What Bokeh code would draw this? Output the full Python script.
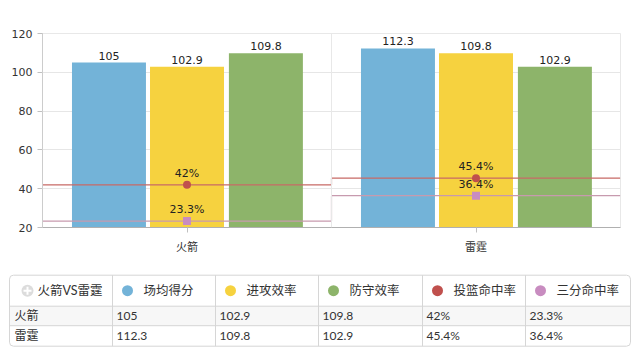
from bokeh.plotting import figure
from bokeh.models import Range1d, FactorRange, FixedTicker, ColumnDataSource, Span
from bokeh.transform import dodge
from bokeh.core.properties import value
from bokeh.embed import file_html
from bokeh.resources import INLINE

# ---- data ----
teams = ["火箭", "雷霆"]
series_names = ["场均得分", "进攻效率", "防守效率", "投篮命中率", "三分命中率"]
ppg = [105, 112.3]
off_eff = [102.9, 109.8]
def_eff = [109.8, 102.9]
fg_pct = [42, 45.4]
three_pct = [23.3, 36.4]
table_title = "火箭VS雷霆"
y_ticks = [20, 40, 60, 80, 100, 120]

colors = ["#73b3d8", "#f6d23f", "#8db46a", "#c0504d", "#c88cc0"]
line_colors = ["#c86a66", "#c79aae"]
FONT = "DejaVu Sans, 'Noto Sans CJK SC'"
TFONT = "Lato, 'Noto Sans CJK SC'"


def fmt(v):
    return f"{v:g}"


# ---- chart ----
p = figure(width=640, height=265, x_range=FactorRange(*teams, range_padding=0),
           y_range=Range1d(20, 120), output_backend="svg", toolbar_location=None,
           min_border_left=42, min_border_right=20, min_border_top=33, min_border_bottom=38)
p.outline_line_color = "#e8e8e8"
p.xgrid.visible = False
p.ygrid.grid_line_color = "#e6e6e6"
p.yaxis.ticker = FixedTicker(ticks=y_ticks)
for ax in (p.xaxis[0], p.yaxis[0]):
    ax.axis_line_color = "#b0b0b0"
    ax.major_tick_line_color = "#c0c0c0"
    ax.major_tick_in = 0
    ax.major_tick_out = 5
    ax.minor_tick_line_color = None
    ax.major_label_text_color = "#333333"
    ax.major_label_text_font = FONT
p.yaxis.major_label_text_font_size = "11px"
p.xaxis.major_label_text_font_size = "11px"
p.xaxis.major_label_standoff = 8

for loc in range(len(teams) + 1):
    p.add_layout(Span(location=loc, dimension="height", line_color="#e8e8e8", line_width=1))

src = ColumnDataSource(dict(team=teams, ppg=ppg, off=off_eff, de=def_eff,
                            fg=fg_pct, tp=three_pct,
                            ppg_l=[fmt(v) for v in ppg], off_l=[fmt(v) for v in off_eff],
                            de_l=[fmt(v) for v in def_eff],
                            fg_l=[fmt(v) + "%" for v in fg_pct], tp_l=[fmt(v) + "%" for v in three_pct]))

offsets = [-0.27, 0.0, 0.273]
bw = 0.256
for off, col, field in zip(offsets, colors[:3], ["ppg", "off", "de"]):
    xx = dodge("team", off, range=p.x_range)
    p.vbar(x=xx, top=field, bottom=20, width=bw, source=src, fill_color=col, line_color=None)
    p.text(x=xx, y=field, text=field + "_l", source=src, text_align="center",
           text_baseline="bottom", y_offset=-3, text_font_size="11px",
           text_color="#222222", text_font=value(FONT))

# step lines for percentages
for vals, lc in zip([fg_pct, three_pct], line_colors):
    xs, ys = [], []
    for i, v in enumerate(vals):
        xs += [i, i + 1]
        ys += [v, v]
    p.line(xs, ys, line_color=lc, line_width=1.2)

p.scatter(x="team", y="fg", source=src, marker="circle", size=8, fill_color=colors[3], line_color=None)
p.scatter(x="team", y="tp", source=src, marker="square", size=8, fill_color=colors[4], line_color=None)
for f in ["fg_l", "tp_l"]:
    p.text(x="team", y=f[:2], text=f, source=src, text_align="center", text_baseline="bottom",
           y_offset=-5, text_font_size="11px", text_color="#222222", text_font=value(FONT))

# ---- table ----
t = figure(width=640, height=91, x_range=Range1d(0, 640), y_range=Range1d(91, 0),
           output_backend="svg", toolbar_location=None, min_border=0)
t.axis.visible = False
t.grid.visible = False
t.outline_line_color = None

col_edges = [9, 112, 215, 318, 422, 525, 630]
row_edges = [9.7, 40.7, 60.2, 80.7]

t.quad(left=[col_edges[0]], right=[col_edges[-1]], top=[row_edges[1]], bottom=[row_edges[2]],
       fill_color="#f7f7f7", line_color=None)
t.quad(left=[col_edges[0]], right=[col_edges[-1]], top=[row_edges[0]], bottom=[row_edges[-1]],
       fill_color=None, line_color="#d6d6d6", line_width=1, border_radius=4)
t.segment(x0=col_edges[1:-1], x1=col_edges[1:-1], y0=[row_edges[0]] * 5, y1=[row_edges[-1]] * 5,
          line_color="#d6d6d6", line_width=1)
t.segment(x0=[col_edges[0]] * 2, x1=[col_edges[-1]] * 2, y0=row_edges[1:3], y1=row_edges[1:3],
          line_color="#d6d6d6", line_width=1)

hy = (row_edges[0] + row_edges[1]) / 2
# header: title with plus icon
t.scatter(x=[col_edges[0] + 18], y=[hy], marker="circle", size=12,
          fill_color="#dcdcdc", line_color=None)
t.scatter(x=[col_edges[0] + 18], y=[hy], marker="cross", size=8,
          fill_color=None, line_color="#ffffff", line_width=2)
t.text(x=[col_edges[0] + 28], y=[hy], text=[table_title], text_baseline="middle",
       text_font_size="12.5px", text_color="#333333", text_font=value(TFONT))
for i, name in enumerate(series_names):
    left = col_edges[i + 1]
    t.scatter(x=[left + 15], y=[hy], marker="circle", size=11, fill_color=colors[i], line_color=None)
    t.text(x=[left + 31], y=[hy], text=[name], text_baseline="middle",
           text_font_size="12.5px", text_color="#333333", text_font=value(TFONT))

rows = []
for r in range(len(teams)):
    rows.append([teams[r], fmt(ppg[r]), fmt(off_eff[r]), fmt(def_eff[r]),
                 fmt(fg_pct[r]) + "%", fmt(three_pct[r]) + "%"])
for r, row in enumerate(rows):
    cy = (row_edges[r + 1] + row_edges[r + 2]) / 2
    xs = [col_edges[c] + (5 if c == 0 else 4) for c in range(6)]
    t.text(x=xs, y=[cy] * 6, text=row, text_baseline="middle", text_font_size="12px",
           text_color="#333333", text_font=value(TFONT))

# separate roots so the table frame is not aligned to the chart frame
open("out.html", "w").write(file_html([p, t], INLINE))
